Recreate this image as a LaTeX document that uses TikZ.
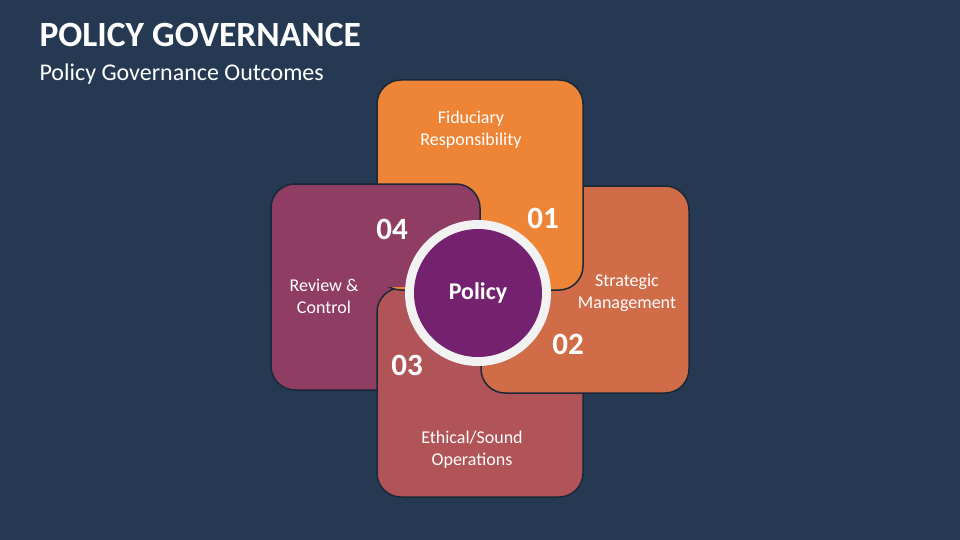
\documentclass[tikz,border=0pt]{standalone}
\usepackage{fontspec}
\setmainfont{Carlito}
\begin{document}
\begin{tikzpicture}[x=1pt,y=-1pt,
 card/.style={rounded corners=24pt,draw=bg!70!black,line width=1.5pt},
 lbl/.style={text=white,font=\fontsize{18}{22}\selectfont,align=center},
 num/.style={text=white,font=\bfseries\fontsize{31}{31}\selectfont}]
\definecolor{bg}{HTML}{253A52}
\definecolor{c1}{HTML}{ED8436}
\definecolor{c2}{HTML}{D06C48}
\definecolor{c3}{HTML}{B05457}
\definecolor{c4}{HTML}{8F3D63}
\definecolor{cp}{HTML}{74226F}
\fill[bg] (0,0) rectangle (960,540);
\useasboundingbox (0,0) rectangle (960,540);
\node[anchor=west,text=white,font=\bfseries\fontsize{35.5}{38}\selectfont] (t) at (36,35) {POLICY GOVERNANCE};
\node[anchor=west,text=white,font=\fontsize{24}{26}\selectfont] (s) at (36,74) {Policy Governance Outcomes};
\path[card,fill=c4] (271,184) rectangle (480,390);
\path[card,fill=c3] (377,288) rectangle (583,497);
\path[card,fill=c2] (481,186) rectangle (689,393);
\path[card,fill=c1] (377,80) rectangle (583,290);
\begin{scope}
\clip (260,170) rectangle (482,286);
\path[card,fill=c4] (271,184) rectangle (480,390);
\end{scope}
\node[circle,fill=white!90!gray,minimum size=146pt,inner sep=0] (ring) at (478,293) {};
\node[circle,fill=cp,minimum size=128pt,inner sep=0,text=white,font=\bfseries\fontsize{24}{26}\selectfont] (p) at (478,293) {Policy};
\node[lbl] (l1) at (471,130) {Fiduciary\\Responsibility};
\node[lbl] (l2) at (627,293) {Strategic\\Management};
\node[lbl] (l3) at (472,450) {Ethical/Sound\\Operations};
\node[lbl] (l4) at (324,296) {Review \&\\Control};
\node[num] (n1) at (543,218) {01};
\node[num] (n2) at (568,344) {02};
\node[num] (n3) at (407,365) {03};
\node[num] (n4) at (392,229) {04};
\end{tikzpicture}
\end{document}
